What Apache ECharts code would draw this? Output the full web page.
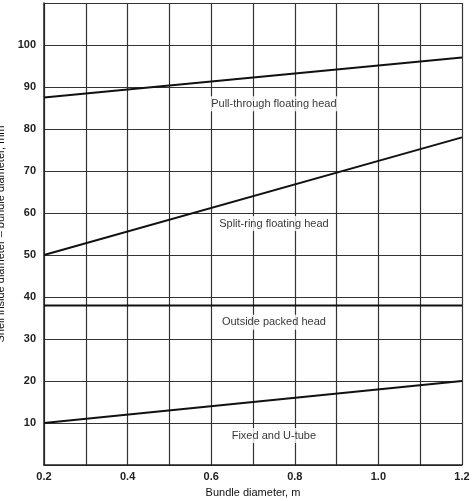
<!DOCTYPE html><html><head><meta charset="utf-8"><script src="https://cdn.jsdelivr.net/npm/echarts@6/dist/echarts.min.js"></script></head><body style="margin:0;background:#fff"><div id="c" style="width:474px;height:501px"></div><script>
const xEnds=[0.2,1.2];
const pullThrough=[87.5,97];
const splitRing=[50,78];
const outsidePacked=[38,38];
const fixedU=[10,20];
const labels=[['Pull-through floating head',0.75,86],['Split-ring floating head',0.75,57.5],['Outside packed head',0.75,34],['Fixed and U-tube',0.75,7]];
const xTicks=[0.2,0.4,0.6,0.8,1.0,1.2];
const ch=echarts.init(document.getElementById('c'));
const ln=(d)=>({type:'line',data:xEnds.map((x,i)=>[x,d[i]]),symbol:'none',lineStyle:{color:'#111',width:2},z:3});
ch.setOption({animation:false,
grid:{left:44,right:12,top:3,bottom:36,containLabel:false,outerBoundsMode:'none'},
xAxis:{type:'value',min:0.2,max:1.2,interval:0.1,name:'Bundle diameter, m',nameLocation:'middle',nameGap:22,
nameTextStyle:{fontFamily:'Liberation Sans',fontSize:11,color:'#111'},
axisLine:{lineStyle:{color:'#222',width:1.5}},axisTick:{show:false},
axisLabel:{fontFamily:'Liberation Sans',fontSize:11,fontWeight:'bold',color:'#222',margin:6,formatter:v=>{const r=Math.round(v*10)/10;return xTicks.some(t=>Math.abs(t-r)<1e-6)?r.toFixed(1):'';}},
splitLine:{lineStyle:{color:'#333',width:1.2}}},
yAxis:{type:'value',min:0,max:110,interval:10,name:'Shell inside diameter \u2013 bundle diameter, mm',nameLocation:'middle',nameGap:32,
nameTextStyle:{fontFamily:'Liberation Sans',fontSize:11,color:'#111'},
axisLine:{show:true,lineStyle:{color:'#222',width:1.5}},axisTick:{show:false},
axisLabel:{fontFamily:'Liberation Sans',fontSize:11,fontWeight:'bold',color:'#222',formatter:v=>v===0||v===110?'':v},
splitLine:{lineStyle:{color:'#333',width:1.2}}},
series:[ln(pullThrough),ln(splitRing),ln(outsidePacked),ln(fixedU),
{type:'scatter',symbolSize:0,z:5,data:labels.map(l=>({value:[l[1],l[2]],name:l[0]})),
label:{show:true,position:'inside',formatter:p=>p.name,fontFamily:'Liberation Sans',fontSize:11,color:'#000',backgroundColor:'#fff',padding:[2,3]}}]
});
</script></body></html>
